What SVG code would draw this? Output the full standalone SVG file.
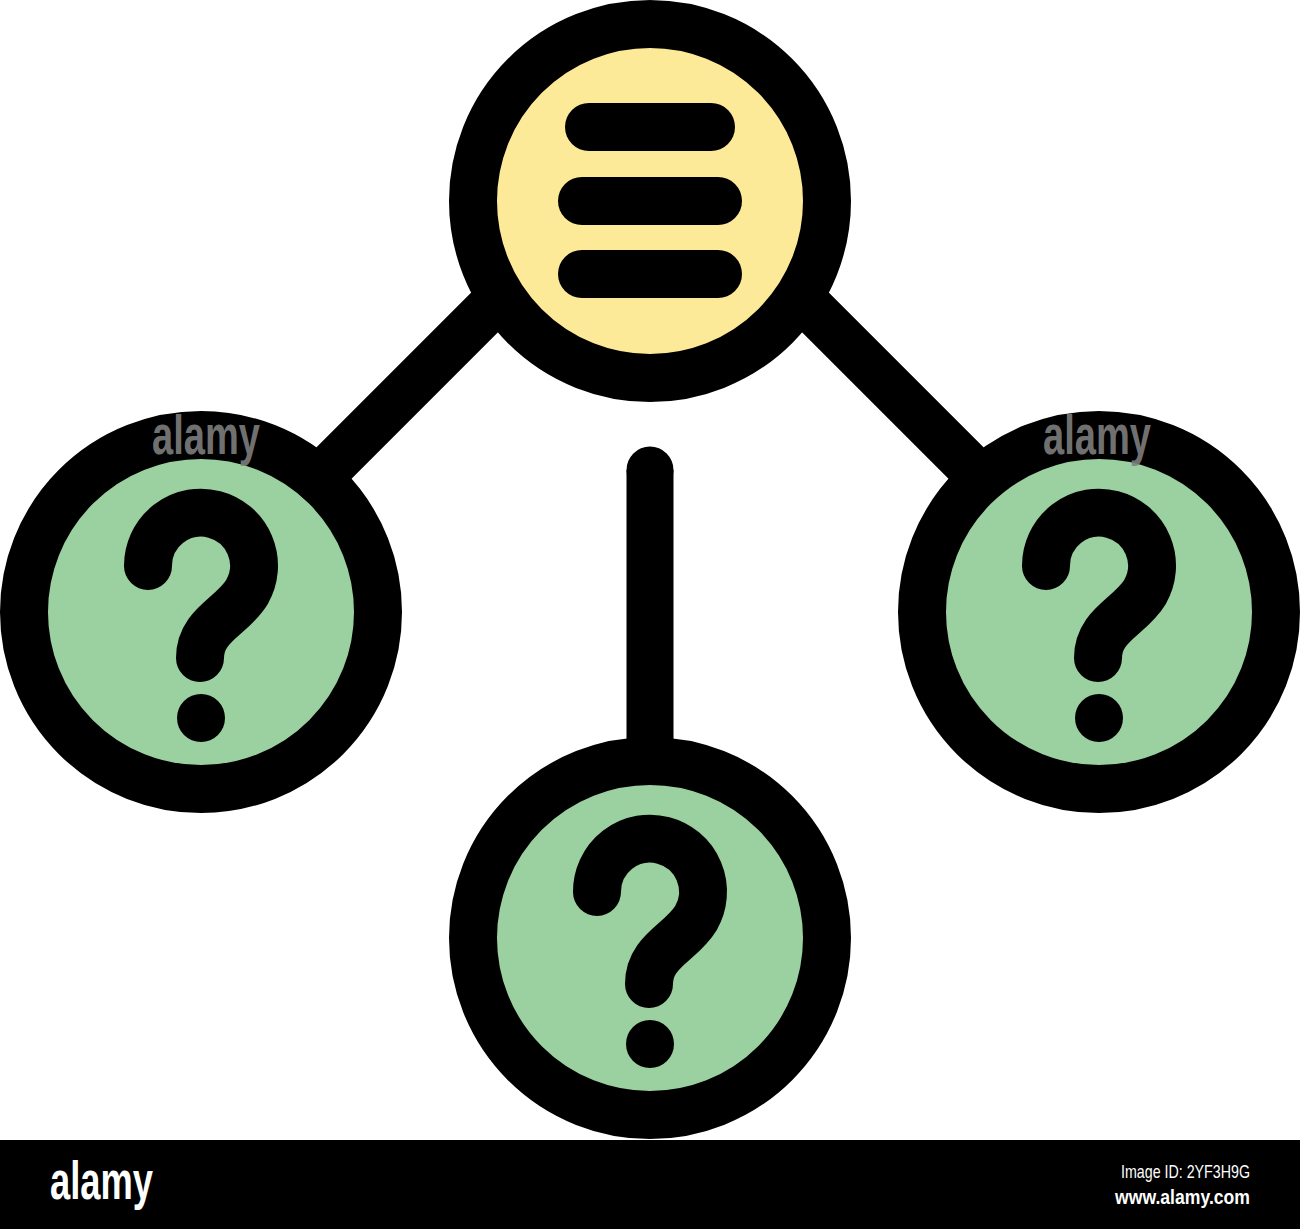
<svg xmlns="http://www.w3.org/2000/svg" xmlns:xlink="http://www.w3.org/1999/xlink" width="1300" height="1229" viewBox="0 0 1300 1229">
<style>
.ring{stroke:#000;stroke-width:48}
.yellow{fill:#FDEA98}
.green{fill:#9BD1A1}
.conn{stroke:#000;stroke-width:47;fill:none}
.ink{stroke:#000;stroke-width:48;stroke-linecap:round;fill:none}
.wm{font-family:"Liberation Sans Narrow","Liberation Sans",Arial,sans-serif;font-weight:bold;fill:#808080;fill-opacity:0.9}
.foot{font-family:"Liberation Sans Narrow","Liberation Sans",Arial,sans-serif;fill:#fff}
</style>
<defs>
<g id="qmark">
<path class="ink" d="M-53,-46 A53,53 0 1 1 46,-20 C31,5 -1,13 -1,46"/>
<circle cx="0" cy="106" r="24" fill="#000"/>
</g>
</defs>
<rect width="1300" height="1229" fill="#fff"/>
<g id="connectors">
<line class="conn" x1="250" y1="547" x2="560" y2="237"/>
<line class="conn" x1="1050" y1="547" x2="740" y2="237"/>
<line class="conn" x1="650" y1="470" x2="650" y2="800"/>
<circle cx="650" cy="470" r="23.5" fill="#000"/>
</g>
<g id="node-top">
<circle class="ring yellow" cx="650" cy="201" r="177"/>
<line class="ink" x1="589" y1="127" x2="711" y2="127"/>
<line class="ink" x1="582" y1="201" x2="718" y2="201"/>
<line class="ink" x1="582" y1="274" x2="718" y2="274"/>
</g>
<g id="node-left">
<circle class="ring green" cx="201" cy="612" r="177"/>
<use xlink:href="#qmark" transform="translate(201,612)"/>
</g>
<g id="node-right">
<circle class="ring green" cx="1099" cy="612" r="177"/>
<use xlink:href="#qmark" transform="translate(1099,612)"/>
</g>
<g id="node-bottom">
<circle class="ring green" cx="650" cy="938" r="177"/>
<use xlink:href="#qmark" transform="translate(650,938)"/>
</g>
<g id="watermarks">
<text class="wm" x="152" y="454" font-size="56" textLength="108" lengthAdjust="spacingAndGlyphs">alamy</text>
<text class="wm" x="1043" y="454" font-size="56" textLength="108" lengthAdjust="spacingAndGlyphs">alamy</text>
</g>
<g id="footer">
<rect x="0" y="1140" width="1300" height="89" fill="#000"/>
<text class="foot" x="50" y="1199" font-weight="bold" font-size="54" textLength="103" lengthAdjust="spacingAndGlyphs">alamy</text>
<text class="foot" x="1121" y="1178" font-size="19" textLength="129" lengthAdjust="spacingAndGlyphs">Image ID: 2YF3H9G</text>
<text class="foot" x="1115" y="1204" font-weight="bold" font-size="21" textLength="135" lengthAdjust="spacingAndGlyphs">www.alamy.com</text>
</g>
</svg>
